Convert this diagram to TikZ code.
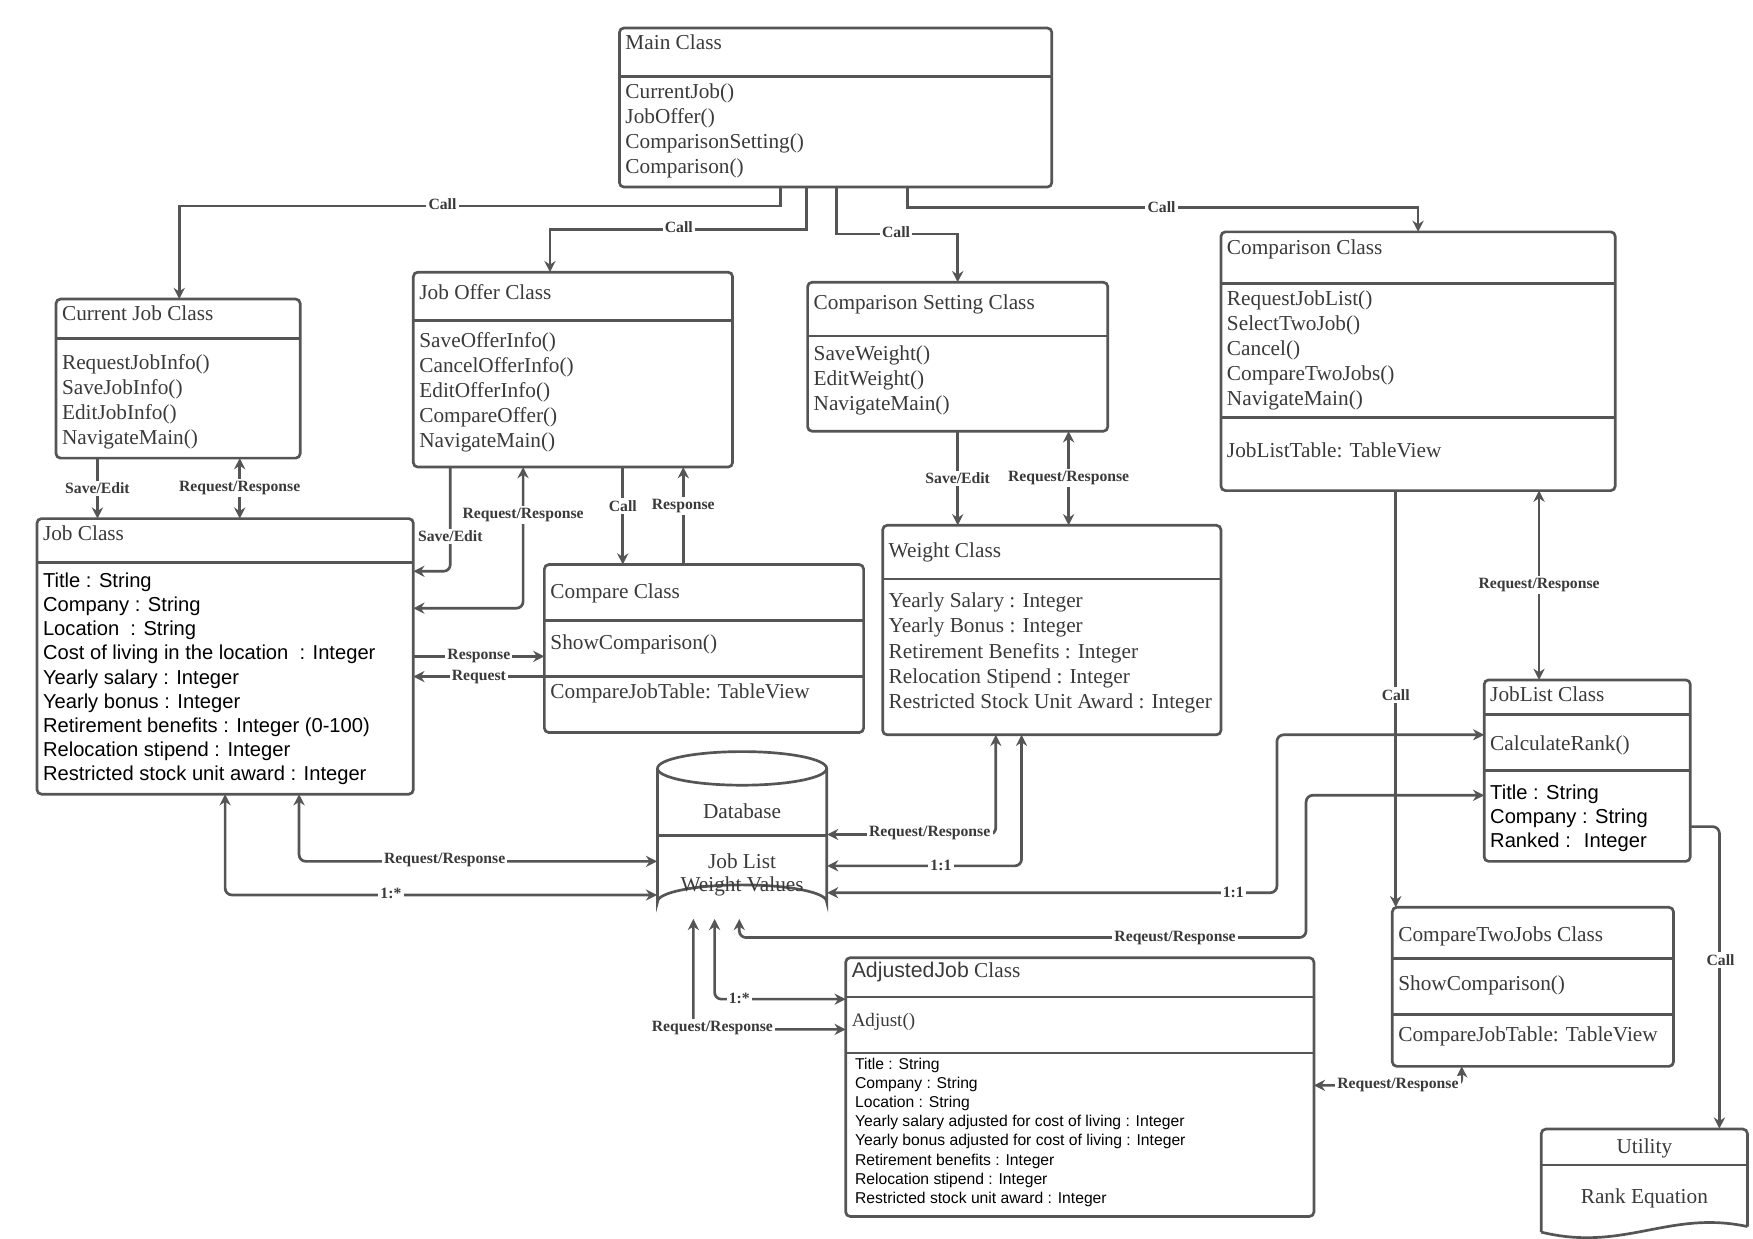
\documentclass[tikz,border=0pt]{standalone}
\usepackage{fontspec}
\setmainfont{Liberation Serif}
\newfontfamily\sansf{Liberation Sans}
\usetikzlibrary{arrows.meta}
\definecolor{ln}{HTML}{555555}
\definecolor{tx}{HTML}{3A3A3A}
\newcommand\cls[5]{%
  \pgfmathsetmacro\bw{(#4-#2)*0.5}\pgfmathsetmacro\bh{(#5-#3)*0.5}%
  \node[box,minimum width=\bw pt,minimum height=\bh pt] (#1) at ({(#2+#4)/2},{(#3+#5)/2}) {};}
\newcommand\dv[2]{\draw[ln,line width=1.2pt] (#1.west |- 0,#2) -- (#1.east |- 0,#2);}
\newcommand\lines[5]{\foreach \t [count=\i] in {#5}
  \node[#1] at (#2,{#3+(\i-1)*#4}) {\t};}
\begin{document}
\begin{tikzpicture}[x=0.5pt,y=-0.5pt,
  box/.style={draw=ln,line width=1.2pt,rounded corners=2pt,inner sep=0,outer sep=0},
  txt/.style={anchor=west,inner sep=0,text=tx,font=\fontsize{9.5}{11}\selectfont},
  stx/.style={anchor=west,inner sep=0,text=black,font=\sansf\fontsize{9}{11}\selectfont},
  ssm/.style={anchor=west,inner sep=0,text=black,font=\sansf\fontsize{7}{8}\selectfont},
  conn/.style={draw=ln,line width=1.2pt,-{Stealth[length=5pt,width=5pt]}},
  both/.style={conn,{Stealth[length=5pt,width=5pt]}-{Stealth[length=5pt,width=5pt]}},
  lbl/.style={fill=white,inner sep=1pt,text=tx,font=\bfseries\fontsize{7}{8}\selectfont}]
\useasboundingbox (0,0) rectangle (1565,1106);

% Main
\cls{main}{553}{25}{939}{167}\dv{main}{68}
\node[txt] (mt) at (558,38) {Main Class};
\lines{txt}{558}{83}{22.3}{CurrentJob(),JobOffer(),ComparisonSetting(),Comparison()}

% Current Job
\cls{cur}{50}{267}{268}{409}\dv{cur}{302}
\node[txt] at (55,280) {Current Job Class};
\lines{txt}{55}{325}{22.3}{RequestJobInfo(),SaveJobInfo(),EditJobInfo(),NavigateMain()}

% Job Offer
\cls{offer}{369}{243}{654}{417}\dv{offer}{286}
\node[txt] at (374,261) {Job Offer Class};
\lines{txt}{374}{306}{22.3}{SaveOfferInfo(),CancelOfferInfo(),EditOfferInfo(),CompareOffer(),NavigateMain()}

% Comparison Setting
\cls{cset}{721}{252}{989}{385}\dv{cset}{300}
\node[txt] at (726,272) {Comparison Setting Class};
\lines{txt}{726}{317}{22.5}{SaveWeight(),EditWeight(),NavigateMain()}

% Comparison
\cls{comp}{1090}{207}{1442}{438}\dv{comp}{253}\dv{comp}{373}
\node[txt] at (1095,223) {Comparison Class};
\lines{txt}{1095}{268}{22.3}{RequestJobList(),SelectTwoJob(),Cancel(),CompareTwoJobs(),NavigateMain()}
\node[txt] at (1095,402) {JobListTable: TableView};

% Job Class
\cls{job}{33}{463}{369}{709}\dv{job}{502}
\node[txt] at (38,476) {Job Class};
\lines{stx}{38}{520}{21.5}{Title : String,Company : String,Location~ : String,Cost of living in the location~ : Integer,Yearly salary : Integer,Yearly bonus : Integer,Retirement benefits : Integer (0-100),Relocation stipend : Integer,Restricted stock unit award : Integer}

% Compare Class
\cls{cmpc}{486}{504}{771}{654}\dv{cmpc}{554}\dv{cmpc}{604}
\node[txt] at (491,530) {Compare Class};
\node[txt] at (491,575) {ShowComparison()};
\node[txt] at (491,619) {CompareJobTable: TableView};

% Weight
\cls{wt}{788}{469}{1090}{656}\dv{wt}{517}
\node[txt] at (793,493) {Weight Class};
\lines{txt}{793}{538}{22.5}{Yearly Salary : Integer,Yearly Bonus : Integer,Retirement Benefits : Integer,Relocation Stipend : Integer,Restricted Stock Unit Award : Integer}

% Database
\node[inner sep=0,minimum width=75.5pt,minimum height=74.5pt] (db) at (662.5,745.5) {};
\draw[ln,line width=1.2pt] (662.5,686) ellipse [x radius=75.5,y radius=15];
\draw[ln,line width=1.2pt] (587,686) -- (587,805) arc[start angle=180,end angle=360,x radius=75.5,y radius=15] -- (738,686);
\draw[ln,line width=1.2pt] (587,746) -- (738,746);
\node[txt,anchor=center] at (662.5,724) {Database};
\node[txt,anchor=center] at (662.5,769) {Job List};
\node[txt,anchor=center] at (662.5,791) {Weight Values};

% JobList
\cls{jl}{1325}{607}{1509}{769}\dv{jl}{638}\dv{jl}{688}
\node[txt] at (1330,620) {JobList Class};
\node[txt] at (1330,665) {CalculateRank()};
\lines{stx}{1330}{709}{21.5}{Title : String,Company : String,Ranked :~ Integer}

% CompareTwoJobs
\cls{ctj}{1243}{810}{1494}{952}\dv{ctj}{856}\dv{ctj}{906}
\node[txt] at (1248,836) {CompareTwoJobs Class};
\node[txt] at (1248,880) {ShowComparison()};
\node[txt] at (1248,925) {CompareJobTable: TableView};

% Adjusted
\cls{adj}{755}{855}{1173}{1086}\dv{adj}{890}\dv{adj}{940}
\node[txt] at (760,868) {{\sansf AdjustedJob} Class};
\node[txt,font=\fontsize{8.5}{10}\selectfont] at (760,912) {Adjust()};
\lines{ssm}{763}{951}{17.1}{Title : String,Company : String,Location : String,Yearly salary adjusted for cost of living : Integer,Yearly bonus adjusted for cost of living : Integer,Retirement benefits : Integer,Relocation stipend : Integer,Restricted stock unit award : Integer}

% Utility
\node[inner sep=0,minimum width=92pt,minimum height=48pt] (ut) at (1468,1056) {};
\draw[ln,line width=1.2pt,rounded corners=2pt] (1376,1100) -- (1376,1008) -- (1560,1008) -- (1560,1095);
\draw[ln,line width=1.2pt] (1560,1095) .. controls (1490,1080) and (1450,1118) .. (1376,1100);
\draw[ln,line width=1.2pt] (1376,1040) -- (1560,1040);
\node[txt,anchor=center] at (1468,1025) {Utility};
\node[txt,anchor=center] at (1468,1070) {Rank Equation};

% Connectors from Main
\draw[conn] (main.south -| 697,0) -- (697,184) -- (160,184) -- (cur.north -| 160,0);
\node[lbl] at (395,182) {Call};
\draw[conn] (main.south -| 720,0) -- (720,205) -- (491,205) -- (offer.north -| 491,0);
\node[lbl] at (606,203) {Call};
\draw[conn] (main.south -| 747,0) -- (747,209) -- (855,209) -- (cset.north -| 855,0);
\node[lbl] at (800,207) {Call};
\draw[conn] (main.south -| 810,0) -- (810,185) -- (1266,185) -- (comp.north -| 1266,0);
\node[lbl] at (1037,185) {Call};

% Current Job <-> Job
\draw[conn] (cur.south -| 87,0) -- node[lbl]{Save/Edit} (job.north -| 87,0);
\draw[both] (cur.south -| 214,0) -- node[lbl]{Request/Response} (job.north -| 214,0);

% Job Offer <-> Job / Compare
\draw[conn,rounded corners=3pt] (offer.south -| 402,0) -- (402,510) -- (job.east |- 0,510);
\node[lbl] at (402,479) {Save/Edit};
\draw[both,rounded corners=3pt] (job.east |- 0,543) -- (467,543) -- (offer.south -| 467,0);
\node[lbl] at (467,460) {Request/Response};
\draw[conn] (offer.south -| 556,0) -- node[lbl,pos=0.4]{Call} (cmpc.north -| 556,0);
\draw[conn] (cmpc.north -| 610,0) -- node[lbl,pos=0.6]{Response} (offer.south -| 610,0);
\draw[conn] (job.east |- 0,586) -- node[lbl,pos=0.5]{Response} (cmpc.west |- 0,586);
\draw[conn] (cmpc.west |- 0,604) -- node[lbl,pos=0.5]{Request} (job.east |- 0,604);

% Comparison Setting <-> Weight
\draw[conn] (cset.south -| 855,0) -- node[lbl]{Save/Edit} (wt.north -| 855,0);
\draw[both] (cset.south -| 954,0) -- node[lbl]{Request/Response} (wt.north -| 954,0);

% Comparison
\draw[conn] (comp.south -| 1246,0) -- node[lbl,pos=0.49]{Call} (ctj.north -| 1246,0);
\draw[both] (comp.south -| 1374,0) -- node[lbl]{Request/Response} (jl.north -| 1374,0);

% Job <-> Database
\draw[both,rounded corners=3pt] (job.south -| 267,0) -- (267,769) -- (db.west |- 0,769);
\node[lbl] at (397,768) {Request/Response};
\draw[both,rounded corners=3pt] (job.south -| 201,0) -- (201,799) -- (db.west |- 0,799);
\node[lbl] at (349,798) {1:*};

% Weight <-> Database
\draw[both,rounded corners=3pt] (db.east |- 0,745) -- (889,745) -- (wt.south -| 889,0);
\node[lbl] at (830,744) {Request/Response};
\draw[both,rounded corners=3pt] (db.east |- 0,773) -- (912,773) -- (wt.south -| 912,0);
\node[lbl] at (840,773) {1:1};

% JobList <-> Database
\draw[both,rounded corners=3pt] (db.east |- 0,797) -- (1140,797) -- (1140,656) -- (jl.west |- 0,656);
\node[lbl] at (1101,797) {1:1};
\draw[both,rounded corners=3pt] (db.south -| 660,0) -- (660,837) -- (1166,837) -- (1166,710) -- (jl.west |- 0,710);
\node[lbl] at (1049,837) {Reqeust/Response};

% Database <-> Adjusted
\draw[both,rounded corners=3pt] (db.south -| 638,0) -- (638,892) -- (adj.west |- 0,892);
\node[lbl] at (660,891) {1:*};
\draw[both,rounded corners=3pt] (db.south -| 619,0) -- (619,919) -- (adj.west |- 0,919);
\node[lbl] at (636,918) {Request/Response};

% CompareTwoJobs <-> Adjusted
\draw[both,rounded corners=3pt] (ctj.south -| 1305,0) -- (1305,969) -- (adj.east |- 0,969);
\node[lbl] at (1248,969) {Request/Response};

% JobList -> Utility
\draw[conn,rounded corners=3pt] (jl.east |- 0,738) -- (1535,738) -- (ut.north -| 1535,0);
\node[lbl] at (1536,857) {Call};
\end{tikzpicture}
\end{document}
